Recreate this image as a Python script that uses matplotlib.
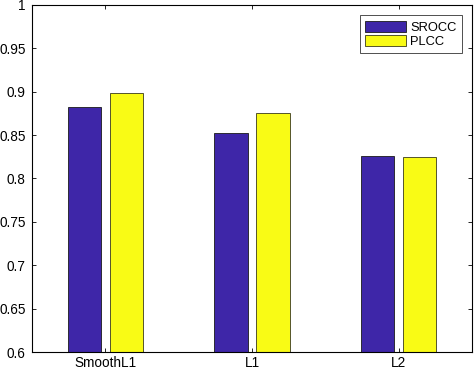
import numpy as np
import matplotlib.pyplot as plt

plt.rcParams['font.family'] = ['Liberation Sans', 'DejaVu Sans']

categories = ['SmoothL1', 'L1', 'L2']
srocc = [0.882, 0.853, 0.826]
plcc = [0.898, 0.875, 0.825]
yticks = [0.6, 0.65, 0.7, 0.75, 0.8, 0.85, 0.9, 0.95, 1.0]
ylabels = ['0.6', '0.65', '0.7', '0.75', '0.8', '0.85', '0.9', '0.95', '1']

fig = plt.figure(figsize=(4.74, 3.72), dpi=100)
ax = fig.add_axes([32 / 474, 20 / 372, 440 / 474, 347 / 372])

x = np.arange(1, len(categories) + 1)
w = 0.229
ax.bar(x - 0.143, srocc, w, color='#3e26a8', edgecolor='#1a1a1a', linewidth=0.6, label='SROCC')
ax.bar(x + 0.143, plcc, w, color='#f9fb15', edgecolor='#3a3a1a', linewidth=0.6, label='PLCC')

ax.set_xlim(0.5, 3.5)
ax.set_ylim(0.6, 1.0)
ax.set_xticks(x)
ax.set_xticklabels(categories)
ax.set_yticks(yticks)
ax.set_yticklabels(ylabels)
ax.tick_params(direction='in', top=True, right=True, labelsize=9.8, length=3, width=0.6)
ax.tick_params(axis='x', pad=3)
ax.tick_params(axis='y', pad=4.5)
for s in ax.spines.values():
    s.set_linewidth(0.8)

leg = ax.legend(loc='upper right', fontsize=9.3, frameon=True, fancybox=False,
                edgecolor='black', handlelength=3.2, handleheight=0.95,
                borderaxespad=0.8, labelspacing=0.12, handletextpad=0.3,
                borderpad=0.4)
leg.get_frame().set_linewidth(0.6)

fig.savefig('out.png', dpi=100)
